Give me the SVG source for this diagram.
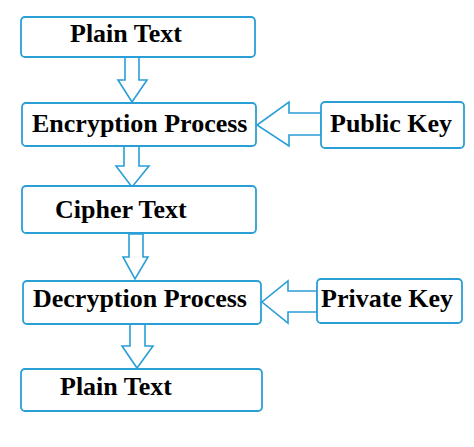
<svg xmlns="http://www.w3.org/2000/svg" width="474" height="447" viewBox="0 0 474 447">
<style>
.box{fill:#fff;stroke:#2a9fd6;stroke-width:1.8}
.arr{fill:#fff;stroke:#2a9fd6;stroke-width:1.6;stroke-linejoin:miter}
text{font-family:"Liberation Serif","Times New Roman",serif;font-weight:bold;font-size:26px;fill:#000}
</style>
<rect width="474" height="447" fill="#fff"/>
<g id="connectors">
<polygon class="arr" points="125,57 139,57 139,80 147,80 132,102 118,80 125,80"/>
<polygon class="arr" points="124,146 139,146 139,166 149,166 132,187 116,166 124,166"/>
<polygon class="arr" points="129,234 143,234 143,257 148,257 135,279 123,257 129,257"/>
<polygon class="arr" points="130,324 145,324 145,346 153,346 137,368 122,346 130,346"/>
<polygon class="arr" points="321,113 289,113 289,102 257,125 289,146 289,135 321,135"/>
<polygon class="arr" points="317,291 288,291 288,281 262,302 288,323 288,312 317,312"/>
</g>
<g id="plain1"><rect class="box" x="21" y="17" width="234" height="40" rx="4"/><text x="70" y="42">Plain Text</text></g>
<g id="encrypt"><rect class="box" x="22" y="103" width="234" height="43" rx="4"/><text x="32" y="132">Encryption Process</text></g>
<g id="pubkey"><rect class="box" x="321" y="102" width="143" height="46" rx="4"/><text x="330" y="132">Public Key</text></g>
<g id="cipher"><rect class="box" x="22" y="186" width="234" height="47" rx="4"/><text x="55" y="218">Cipher Text</text></g>
<g id="decrypt"><rect class="box" x="23" y="281" width="238" height="43" rx="4"/><text x="33" y="307">Decryption Process</text></g>
<g id="privkey"><rect class="box" x="317" y="279" width="145" height="44" rx="4"/><text x="321" y="307">Private Key</text></g>
<g id="plain2"><rect class="box" x="21" y="369" width="241" height="42" rx="4"/><text x="60" y="395">Plain Text</text></g>
</svg>
